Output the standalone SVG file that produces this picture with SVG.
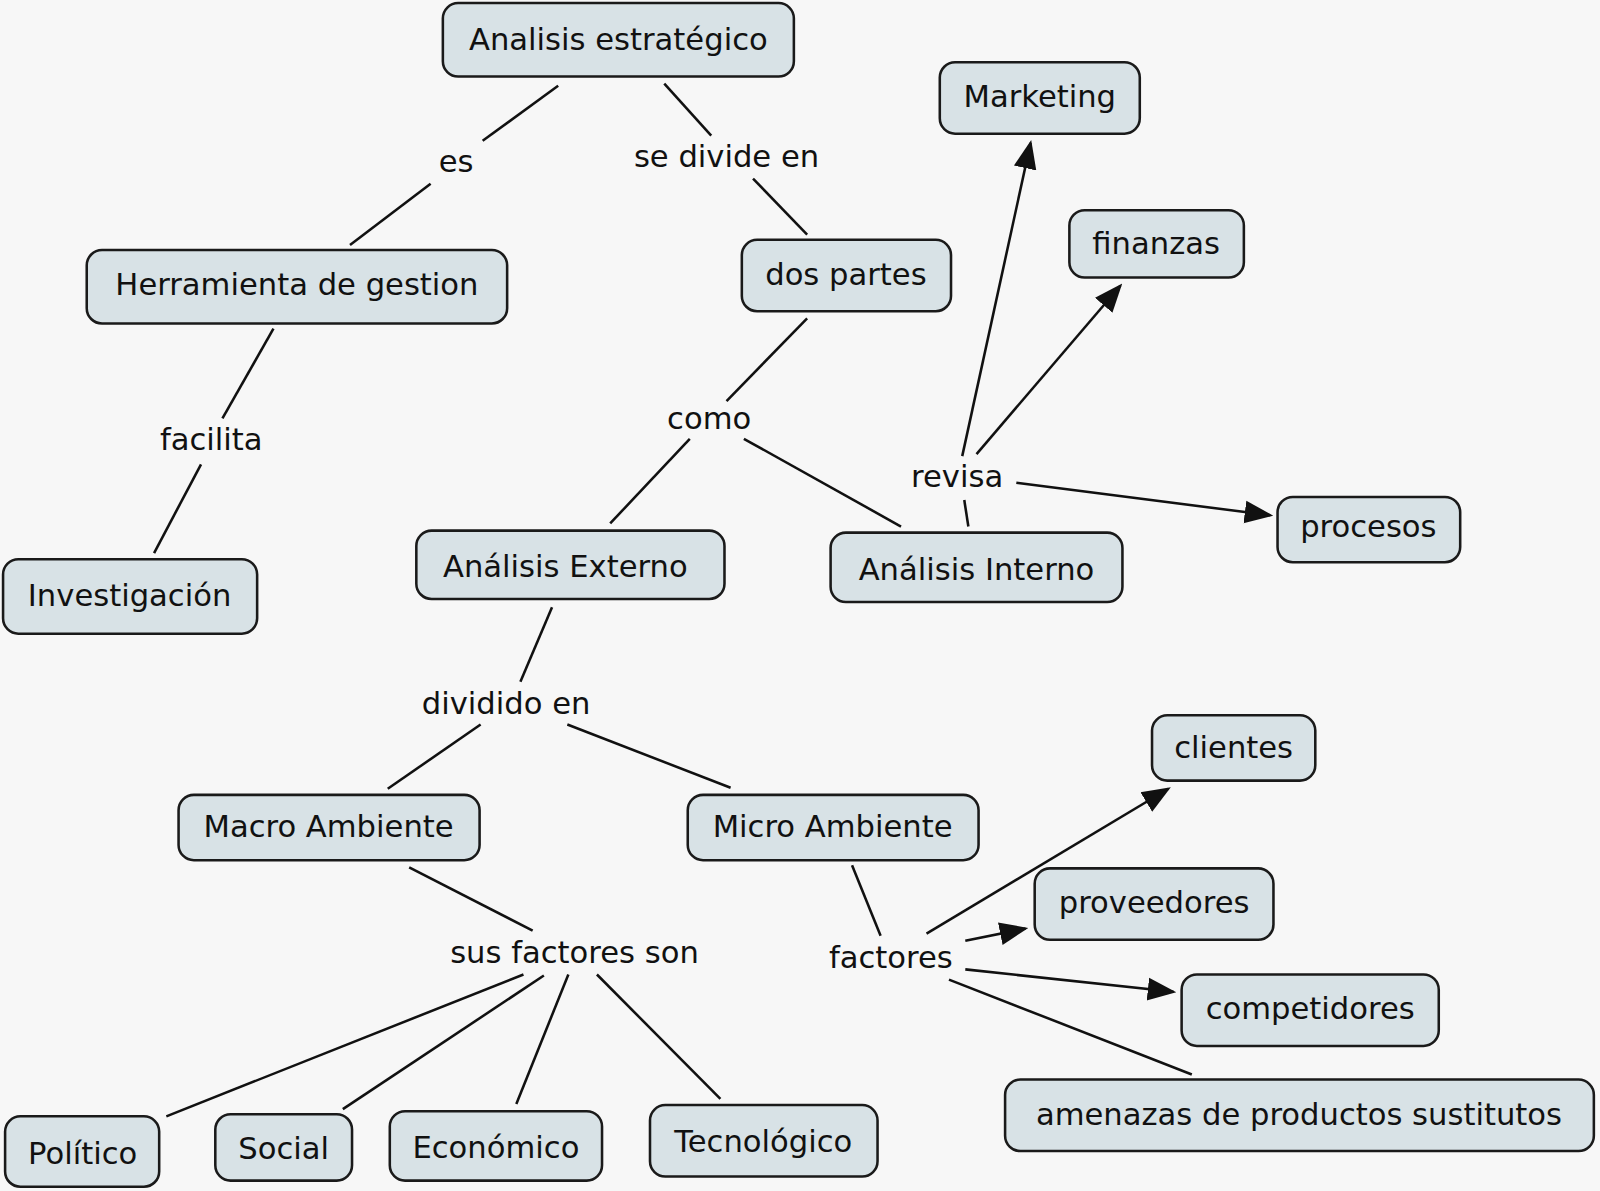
<svg xmlns="http://www.w3.org/2000/svg" width="1600" height="1191" viewBox="0 0 1600 1191">
<style>
.n rect{fill:#d8e2e6;stroke:#1a1a1a;stroke-width:2.5}
text{font-family:"DejaVu Sans",Verdana,sans-serif;font-size:30px;fill:#111;text-anchor:middle;dominant-baseline:central}
.c line{stroke:#111;stroke-width:2.5}
.a{marker-end:url(#ar)}
</style>
<defs><marker id="ar" viewBox="0 0 10 10" refX="9" refY="5" markerWidth="11" markerHeight="11" markerUnits="userSpaceOnUse" orient="auto"><path d="M0,0L10,5L0,10z" fill="#111"/></marker>
<marker id="ar2" viewBox="0 0 10 10" refX="9" refY="5" markerWidth="28" markerHeight="28" markerUnits="userSpaceOnUse" orient="auto"><path d="M0,1L10,5L0,9z" fill="#111"/></marker></defs>
<rect width="1600" height="1191" fill="#f7f7f7"/>
<g transform="scale(1.0204)">
<g class="c">
<line x1="547" y1="84" x2="473" y2="138"/><line x1="422" y1="180" x2="343" y2="240"/>
<line x1="651" y1="82" x2="697" y2="133"/><line x1="738" y1="175" x2="791" y2="230"/>
<line x1="268" y1="322" x2="218" y2="410"/><line x1="197" y1="455" x2="151" y2="542"/>
<line x1="791" y1="312" x2="712" y2="393"/><line x1="676" y1="430" x2="598" y2="513"/>
<line x1="729" y1="430" x2="883" y2="516"/>
<line x1="949" y1="516" x2="945" y2="490"/>
<line x1="943" y1="447" x2="1010" y2="140" marker-end="url(#ar2)"/>
<line x1="957" y1="445" x2="1098" y2="280" marker-end="url(#ar2)"/>
<line x1="996" y1="473" x2="1245" y2="505" marker-end="url(#ar2)"/>
<line x1="541" y1="595" x2="510" y2="668"/><line x1="471" y1="710" x2="380" y2="773"/><line x1="556" y1="710" x2="716" y2="772"/>
<line x1="401" y1="850" x2="522" y2="912"/>
<line x1="835" y1="848" x2="863" y2="917"/>
<line x1="908" y1="915" x2="1145" y2="773" marker-end="url(#ar2)"/>
<line x1="946" y1="922" x2="1005" y2="910" marker-end="url(#ar2)"/>
<line x1="946" y1="950" x2="1150" y2="972" marker-end="url(#ar2)"/>
<line x1="930" y1="960" x2="1168" y2="1053"/>
<line x1="513" y1="955" x2="163" y2="1094"/><line x1="533" y1="956" x2="336" y2="1087"/>
<line x1="557" y1="955" x2="506" y2="1082"/><line x1="585" y1="955" x2="706" y2="1077"/>
</g>
<g id="labels">
<text x="447" y="158">es</text><text x="712" y="153">se divide en</text>
<text x="207" y="431">facilita</text><text x="695" y="410">como</text>
<text x="938" y="467">revisa</text><text x="496" y="689">dividido en</text>
<text x="563" y="933">sus factores son</text><text x="873" y="938">factores</text>
</g>
<g id="n1" class="n"><rect x="434" y="3" width="344" height="72" rx="15"/><text x="606" y="39">Analisis estratégico</text></g>
<g id="n2" class="n"><rect x="921" y="61" width="196" height="70" rx="15"/><text x="1019" y="95">Marketing</text></g>
<g id="n3" class="n"><rect x="1048" y="206" width="171" height="66" rx="15"/><text x="1133" y="239">finanzas</text></g>
<g id="n4" class="n"><rect x="85" y="245" width="412" height="72" rx="15"/><text x="291" y="279">Herramienta de gestion</text></g>
<g id="n5" class="n"><rect x="727" y="235" width="205" height="70" rx="15"/><text x="829" y="269">dos partes</text></g>
<g id="n6" class="n"><rect x="1252" y="487" width="179" height="64" rx="15"/><text x="1341" y="516">procesos</text></g>
<g id="n7" class="n"><rect x="3" y="548" width="249" height="73" rx="15"/><text x="127" y="584">Investigación</text></g>
<g id="n8" class="n"><rect x="408" y="520" width="302" height="67" rx="15"/><text x="554" y="555">Análisis Externo</text></g>
<g id="n9" class="n"><rect x="814" y="522" width="286" height="68" rx="15"/><text x="957" y="558">Análisis Interno</text></g>
<g id="n10" class="n"><rect x="1129" y="701" width="160" height="64" rx="15"/><text x="1209" y="733">clientes</text></g>
<g id="n11" class="n"><rect x="175" y="779" width="295" height="64" rx="15"/><text x="322" y="810">Macro Ambiente</text></g>
<g id="n12" class="n"><rect x="674" y="779" width="285" height="64" rx="15"/><text x="816" y="810">Micro Ambiente</text></g>
<g id="n13" class="n"><rect x="1014" y="851" width="234" height="70" rx="15"/><text x="1131" y="884">proveedores</text></g>
<g id="n14" class="n"><rect x="1158" y="955" width="252" height="70" rx="15"/><text x="1284" y="988">competidores</text></g>
<g id="n15" class="n"><rect x="985" y="1058" width="577" height="70" rx="15"/><text x="1273" y="1092">amenazas de productos sustitutos</text></g>
<g id="n16" class="n"><rect x="5" y="1094" width="151" height="69" rx="15"/><text x="81" y="1130">Político</text></g>
<g id="n17" class="n"><rect x="211" y="1092" width="134" height="65" rx="15"/><text x="278" y="1126">Social</text></g>
<g id="n18" class="n"><rect x="382" y="1089" width="208" height="68" rx="15"/><text x="486" y="1125">Económico</text></g>
<g id="n19" class="n"><rect x="637" y="1083" width="223" height="70" rx="15"/><text x="748" y="1119">Tecnológico</text></g>
</g>
</svg>
